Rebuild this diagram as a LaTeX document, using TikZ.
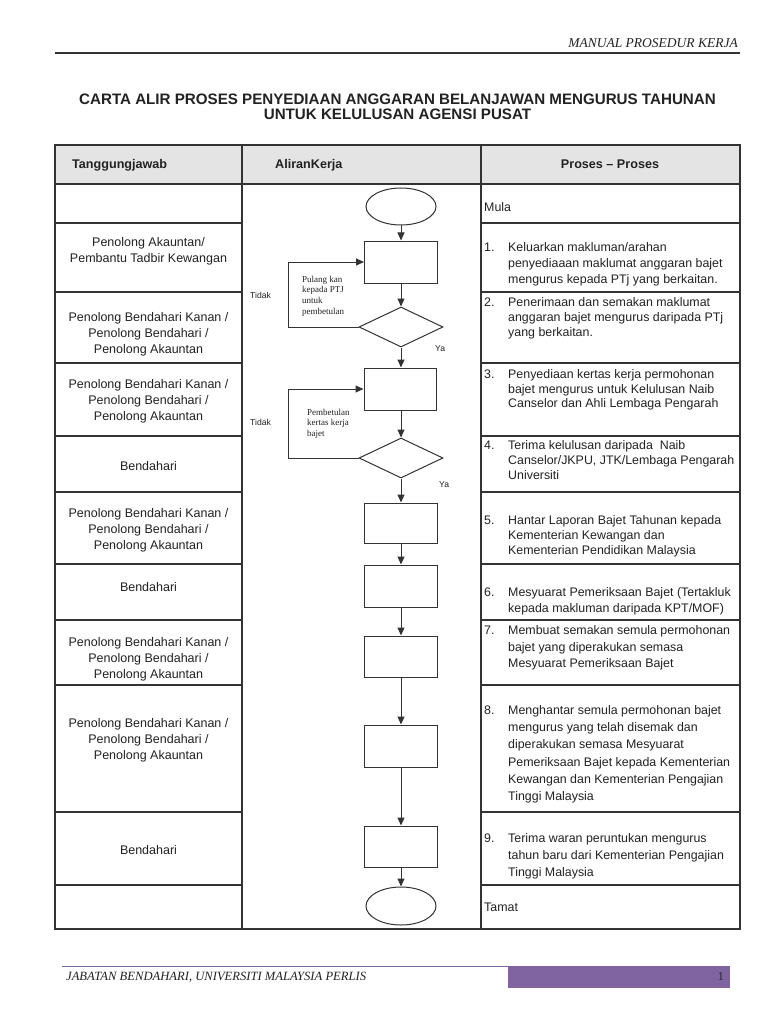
\documentclass[tikz,border=0pt]{standalone}
\usepackage{fontspec}
\setmainfont{Liberation Sans}
\newfontfamily\tnr{Liberation Serif}
\usetikzlibrary{shapes.geometric,arrows.meta}
\definecolor{ink}{HTML}{222222}
\definecolor{rule}{HTML}{333333}
\definecolor{hdr}{HTML}{E4E4E4}
\definecolor{purp}{HTML}{8064A2}
\newcommand{\mylines}[2][l]{\begin{tabular}[t]{@{}#1@{}}#2\end{tabular}}
\newcommand{\mynum}[2]{\makebox[24pt][l]{#1}\mylines{#2}}
\tikzset{
  box/.style={draw=rule, line width=1pt, minimum width=73pt, minimum height=42pt, inner sep=0pt},
  oval/.style={ellipse, draw=rule, line width=1pt, minimum width=70pt, minimum height=37pt, inner sep=0pt},
  dec/.style={diamond, draw=rule, line width=1pt, minimum width=84pt, minimum height=40pt, inner sep=0pt},
  arr/.style={draw=rule, line width=1pt, -{Triangle[length=8pt,width=7pt]}},
  grid/.style={draw=rule, line width=1.1pt},
  lt/.style={anchor=base, inner sep=0pt, text=ink, font=\fontsize{12.5}{16}\selectfont},
  rt/.style={anchor=base west, inner sep=0pt, text=ink, font=\fontsize{12.4}{#1}\selectfont},
  rt/.default=16,
  hd/.style={anchor=base, inner sep=0pt, text=ink, font=\fontsize{12.6}{15}\selectfont\bfseries},
  small/.style={anchor=base west, inner sep=0pt, text=ink, font=\fontsize{8.6}{10}\selectfont},
  note/.style={anchor=base west, inner sep=0pt, text=ink, font=\tnr\fontsize{9}{10.7}\selectfont},
}
\begin{document}
\begin{tikzpicture}[x=1pt,y=-1pt]
\useasboundingbox (0,0) rectangle (768,1024);
\fill[white] (0,0) rectangle (768,1024);

% page header
\node[anchor=base east, inner sep=0pt, text=ink, font=\tnr\itshape\fontsize{13.5}{15}\selectfont] (mhead) at (738,47.5) {MANUAL PROSEDUR KERJA};
\draw[rule, line width=1.3pt] (55,53) -- (740,53);

% title
\node[anchor=base, inner sep=0pt, text=ink, font=\fontsize{15.15}{14.5}\selectfont\bfseries, align=center] (title) at (397.5,119.5)
  {CARTA ALIR PROSES PENYEDIAAN ANGGARAN BELANJAWAN MENGURUS TAHUNAN\\UNTUK KELULUSAN AGENSI PUSAT};

% table
\fill[hdr] (55,145) rectangle (740,184);
\draw[grid] (55,145) rectangle (740,929);
\draw[grid] (55,184) -- (740,184);
\draw[grid] (242,145) -- (242,929);
\draw[grid] (481,145) -- (481,929);
\foreach \yy in {223,292,363,436,492,564,620,685,812,885}{
  \draw[grid] (55,\yy) -- (242,\yy);
  \draw[grid] (481,\yy) -- (740,\yy);
}

% header cells
\node[hd, anchor=base west] (h1) at (72,169) {Tanggungjawab};
\node[hd, anchor=base west] (h2) at (275,169) {AliranKerja};
\node[hd] (h3) at (610,169) {Proses -- Proses};

% left column
\node[lt] (r1) at (148.5,246.5) {\mylines[c]{Penolong Akauntan/\\Pembantu Tadbir Kewangan}};
\node[lt] (r2) at (148.5,321.5) {\mylines[c]{Penolong Bendahari Kanan /\\Penolong Bendahari /\\Penolong Akauntan}};
\node[lt] (r3) at (148.5,388.5) {\mylines[c]{Penolong Bendahari Kanan /\\Penolong Bendahari /\\Penolong Akauntan}};
\node[lt] (r4) at (148.5,470) {Bendahari};
\node[lt] (r5) at (148.5,517.5) {\mylines[c]{Penolong Bendahari Kanan /\\Penolong Bendahari /\\Penolong Akauntan}};
\node[lt] (r6) at (148.5,591) {Bendahari};
\node[lt] (r7) at (148.5,646.5) {\mylines[c]{Penolong Bendahari Kanan /\\Penolong Bendahari /\\Penolong Akauntan}};
\node[lt] (r8) at (148.5,727.5) {\mylines[c]{Penolong Bendahari Kanan /\\Penolong Bendahari /\\Penolong Akauntan}};
\node[lt] (r9) at (148.5,854.5) {Bendahari};

% right column
\node[rt] (p0) at (484,211.5) {Mula};
\node[rt=16] (p1) at (484,251.5) {\mynum{1.}{Keluarkan makluman/arahan\\penyediaaan maklumat anggaran bajet\\mengurus kepada PTj yang berkaitan.}};
\node[rt=15] (p2) at (484,306.5) {\mynum{2.}{Penerimaan dan semakan maklumat\\anggaran bajet mengurus daripada PTj\\yang berkaitan.}};
\node[rt=14.5] (p3) at (484,378.5) {\mynum{3.}{Penyediaan kertas kerja permohonan\\bajet mengurus untuk Kelulusan Naib\\Canselor dan Ahli Lembaga Pengarah}};
\node[rt=15] (p4) at (484,449.5) {\mynum{4.}{Terima kelulusan daripada~ Naib\\Canselor/JKPU, JTK/Lembaga Pengarah\\Universiti}};
\node[rt=15] (p5) at (484,524.5) {\mynum{5.}{Hantar Laporan Bajet Tahunan kepada\\Kementerian Kewangan dan\\Kementerian Pendidikan Malaysia}};
\node[rt=16] (p6) at (484,596.5) {\mynum{6.}{Mesyuarat Pemeriksaan Bajet (Tertakluk\\kepada makluman daripada KPT/MOF)}};
\node[rt=16.5] (p7) at (484,634.5) {\mynum{7.}{Membuat semakan semula permohonan\\bajet yang diperakukan semasa\\Mesyuarat Pemeriksaan Bajet}};
\node[rt=17.2] (p8) at (484,714.5) {\mynum{8.}{Menghantar semula permohonan bajet\\mengurus yang telah disemak dan\\diperakukan semasa Mesyuarat\\Pemeriksaan Bajet kepada Kementerian\\Kewangan dan Kementerian Pengajian\\Tinggi Malaysia}};
\node[rt=17] (p9) at (484,842.5) {\mynum{9.}{Terima waran peruntukan mengurus\\tahun baru dari Kementerian Pengajian\\Tinggi Malaysia}};
\node[rt] (p10) at (484,911.5) {Tamat};

% flowchart
\node[oval] (st) at (401,206.5) {};
\node[box] (b1) at (401,262) {};
\node[dec] (d1) at (401,327) {};
\node[box, minimum width=72pt] (b2) at (400,389) {};
\node[dec] (d2) at (401,458) {};
\node[box, minimum height=40pt] (b3) at (401,523) {};
\node[box] (b4) at (401,586) {};
\node[box, minimum height=41pt] (b5) at (401,656.5) {};
\node[box] (b6) at (401,746) {};
\node[box, minimum height=41pt] (b7) at (401,846.5) {};
\node[oval, minimum height=38pt] (en) at (401,906) {};

\coordinate (c1) at (288,327);
\coordinate (c2) at (288,458);

\draw[arr] (st) -- (b1);
\draw[arr] (b1) -- (d1);
\draw[arr] (d1.south) -- (d1.south |- b2.north);
\draw[arr] (d1.west) -- (c1) |- (b1.west);
\draw[arr] (b2.south -| d2.north) -- (d2.north);
\draw[arr] (d2.west) -- (c2) |- (b2.west);
\draw[arr] (d2) -- (b3);
\draw[arr] (b3) -- (b4);
\draw[arr] (b4) -- (b5);
\draw[arr] (b5) -- (b6);
\draw[arr] (b6) -- (b7);
\draw[arr] (b7) -- (en);

\node[note] (n1) at (302,282) {\mylines{Pulang kan\\kepada PTJ\\untuk\\pembetulan}};
\node[note] (n2) at (307,415) {\mylines{Pembetulan\\kertas kerja\\bajet}};
\node[small] (t1) at (250,298) {Tidak};
\node[small] (t2) at (250,425) {Tidak};
\node[small] (y1) at (435,351) {Ya};
\node[small] (y2) at (439,487) {Ya};

% footer
\draw[purp, line width=0.8pt] (62,966) -- (730,966);
\fill[purp] (508,966) rectangle (730,988);
\node[anchor=base west, inner sep=0pt, text=ink, font=\tnr\itshape\fontsize{12.6}{14}\selectfont] (foot) at (66,980) {JABATAN BENDAHARI, UNIVERSITI MALAYSIA PERLIS};
\node[anchor=base east, inner sep=0pt, text=ink, font=\tnr\fontsize{12}{14}\selectfont] (pg) at (724,980) {1};
\end{tikzpicture}
\end{document}
